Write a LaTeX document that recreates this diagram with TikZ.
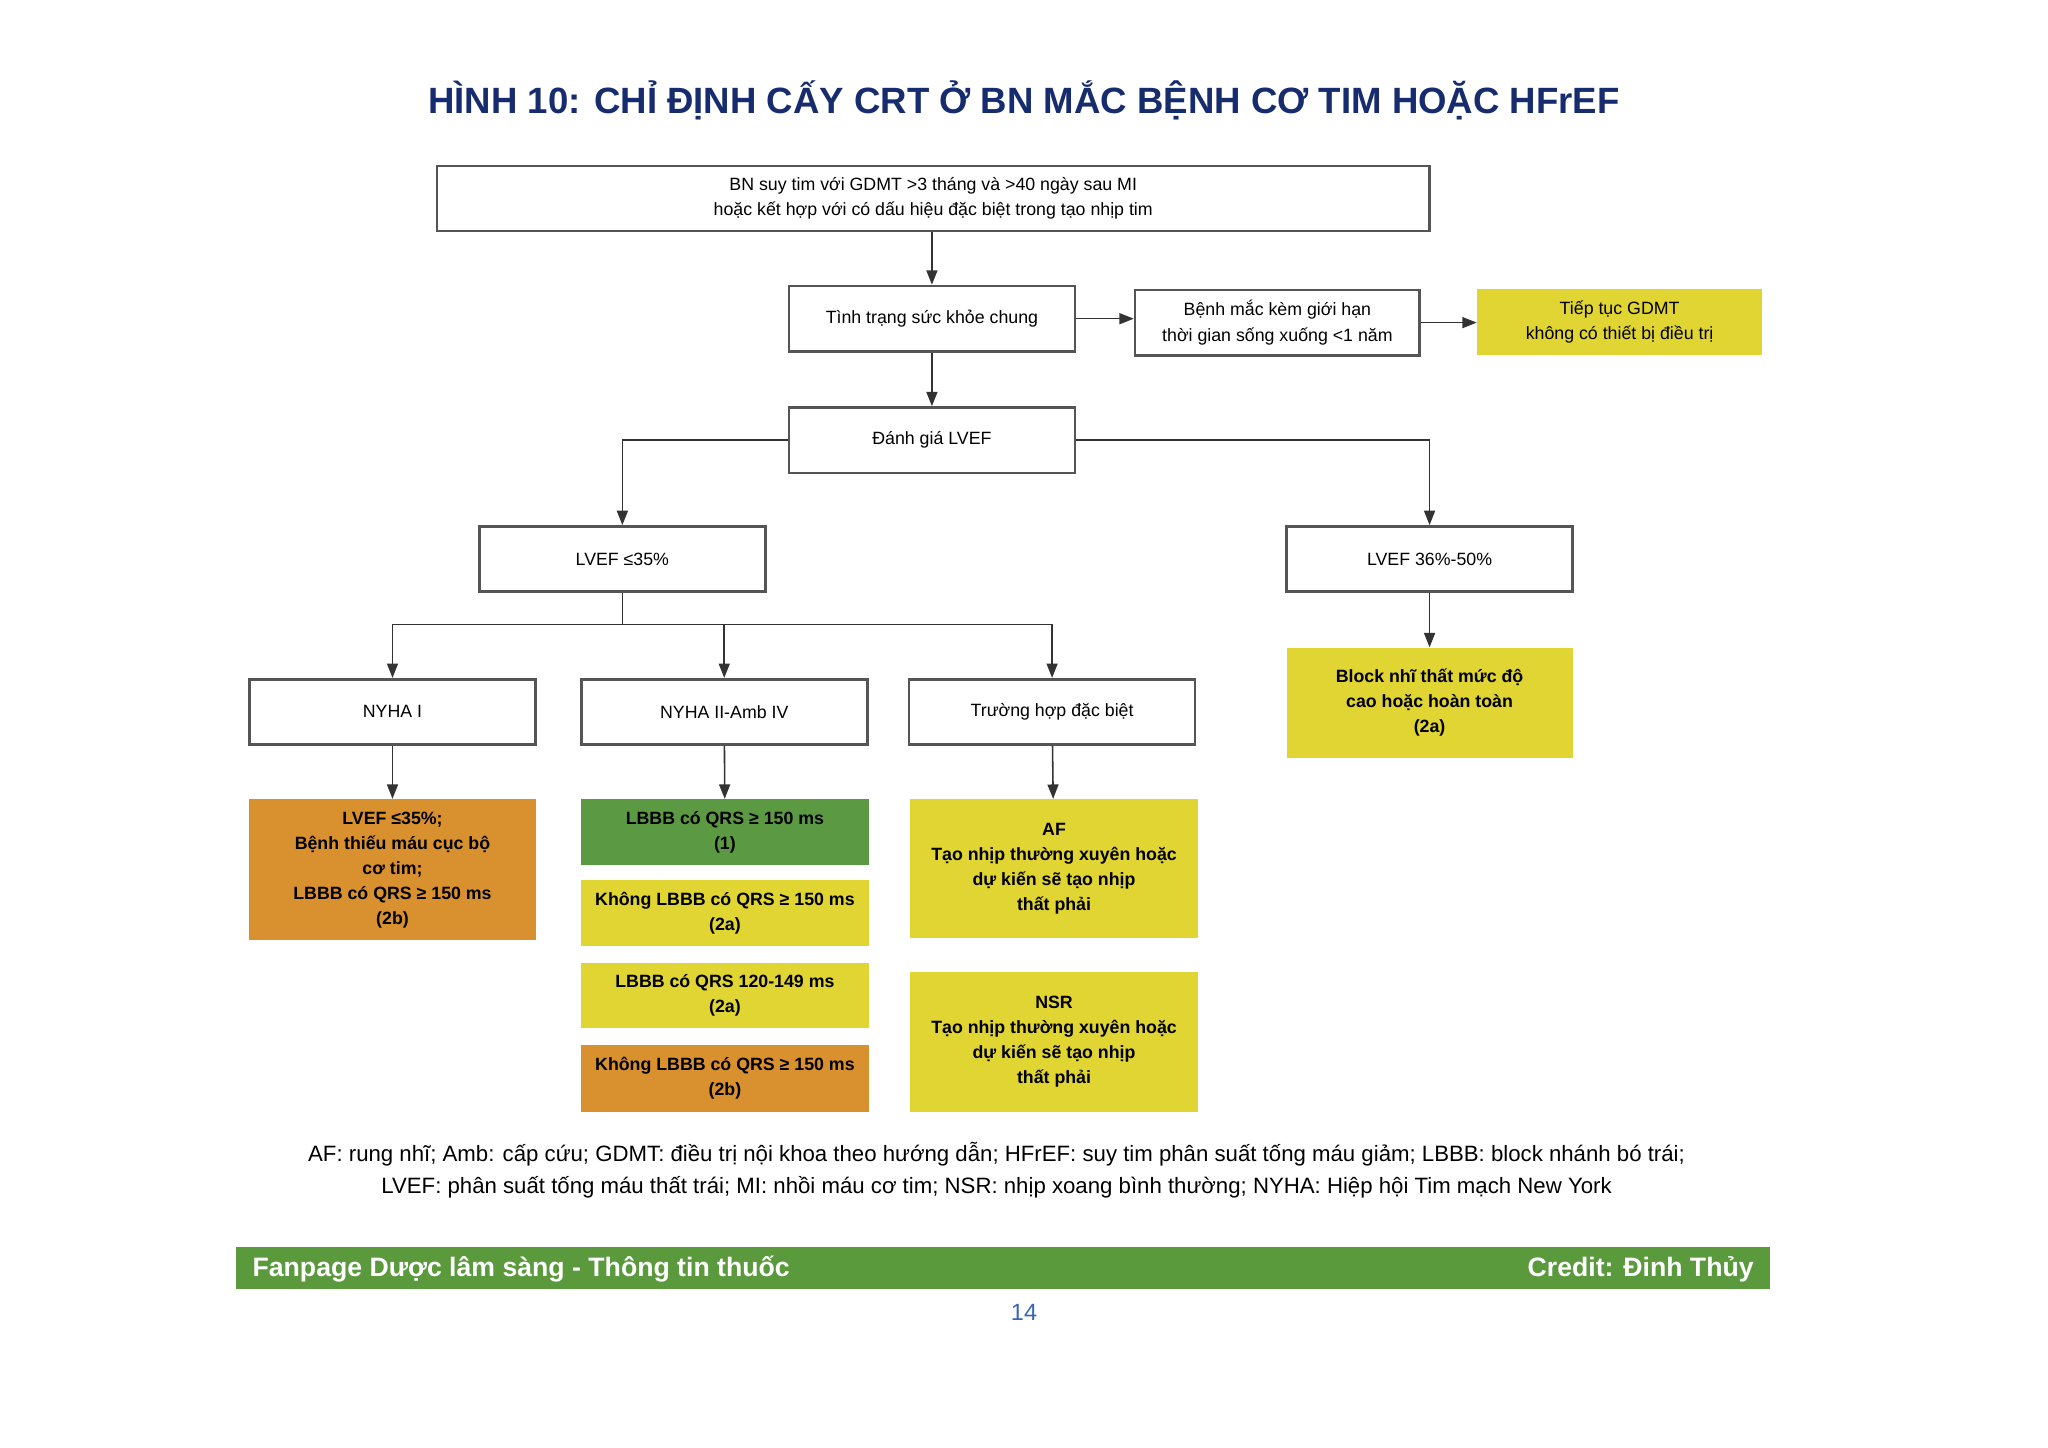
\documentclass[tikz,border=0pt]{standalone}
\usepackage{fontspec}
\setmainfont{Liberation Sans}
\usetikzlibrary{arrows.meta}
\definecolor{navy}{RGB}{22,44,110}
\definecolor{oran}{RGB}{217,144,46}
\definecolor{grn}{RGB}{91,154,66}
\definecolor{yel}{RGB}{224,213,50}
\definecolor{foot}{RGB}{90,154,60}
\definecolor{bord}{RGB}{85,85,85}
\definecolor{pgblue}{RGB}{60,100,180}
\begin{document}
\begin{tikzpicture}[x=0.5pt,y=-0.5pt,
  base/.style={inner sep=0pt,align=center,font=\fontsize{6.8}{9.6}\selectfont},
  wbox/.style={base,draw=bord,line width=1pt,fill=white},
  cbox/.style={base,font=\fontsize{6.8}{9.6}\selectfont\bfseries},
  arr/.style={-{Triangle[length=5.5pt,width=4.2pt]},line width=0.6pt,draw=black!80}]
\useasboundingbox (0,0) rectangle (1568,1108.6);
\fill[white] (0,0) rectangle (1568,1108.6);
\node[font=\fontsize{14}{16}\selectfont\bfseries,text=navy] (title) at (784,77) {HÌNH 10: CHỈ ĐỊNH CẤY CRT Ở BN MẮC BỆNH CƠ TIM HOẶC HFrEF};
\node[wbox,minimum width=380pt,minimum height=25pt] (top) at (714.5,152) {BN suy tim với GDMT >3 tháng và >40 ngày sau MI\\hoặc kết hợp với có dấu hiệu đặc biệt trong tạo nhịp tim};
\node[wbox,minimum width=109.5pt,minimum height=25pt] (tinh) at (713.5,244) {Tình trạng sức khỏe chung};
\node[wbox,minimum width=109pt,minimum height=25pt] (benh) at (978,247) {Bệnh mắc kèm giới hạn\\thời gian sống xuống <1 năm};
\node[base,fill=yel,minimum width=109pt,minimum height=25.5pt] (tiep) at (1240,246.5) {Tiếp tục GDMT\\không có thiết bị điều trị};
\node[wbox,minimum width=109.5pt,minimum height=25pt] (danh) at (713.5,337) {Đánh giá LVEF};
\node[wbox,minimum width=109.5pt,minimum height=25pt] (l35) at (476.5,428) {LVEF ≤35\%};
\node[wbox,minimum width=109.5pt,minimum height=25pt] (l36) at (1094.5,428) {LVEF 36\%-50\%};
\node[cbox,fill=yel,minimum width=109.5pt,minimum height=42pt] (block) at (1094.5,538) {Block nhĩ thất mức độ\\cao hoặc hoàn toàn\\(2a)};
\node[wbox,minimum width=109.5pt,minimum height=25pt] (n1) at (300.5,545) {NYHA I};
\node[wbox,minimum width=109.5pt,minimum height=25pt] (n2) at (554.5,545) {NYHA II-Amb IV};
\node[wbox,minimum width=109.5pt,minimum height=25pt] (n3) at (805.5,545) {Trường hợp đặc biệt};
\node[cbox,fill=oran,minimum width=109.5pt,minimum height=54pt] (o1) at (300.5,666) {LVEF ≤35\%;\\Bệnh thiếu máu cục bộ\\cơ tim;\\LBBB có QRS ≥ 150 ms\\(2b)};
\node[cbox,fill=grn,minimum width=110pt,minimum height=25pt] (g1) at (555,637) {LBBB có QRS ≥ 150 ms\\(1)};
\node[cbox,fill=yel,minimum width=110pt,minimum height=25pt] (y1) at (555,699) {Không LBBB có QRS ≥ 150 ms\\(2a)};
\node[cbox,fill=yel,minimum width=110pt,minimum height=25pt] (y2) at (555,762) {LBBB có QRS 120-149 ms\\(2a)};
\node[cbox,fill=oran,minimum width=110pt,minimum height=25.5pt] (o2) at (555,825.5) {Không LBBB có QRS ≥ 150 ms\\(2b)};
\node[cbox,fill=yel,minimum width=110pt,minimum height=53pt] (af) at (807,665) {AF\\Tạo nhịp thường xuyên hoặc\\dự kiến sẽ tạo nhịp\\thất phải};
\node[cbox,fill=yel,minimum width=110pt,minimum height=53.5pt] (nsr) at (807,797.5) {NSR\\Tạo nhịp thường xuyên hoặc\\dự kiến sẽ tạo nhịp\\thất phải};
\coordinate (jn) at (476.5,478);
\draw[arr] (top.south -| tinh) -- (tinh.north);
\draw[arr] (tinh.east) -- (tinh.east -| benh.west);
\draw[arr] (benh.east) -- (benh.east -| tiep.west);
\draw[arr] (tinh) -- (danh);
\draw[arr] (danh.west) -| (l35.north);
\draw[arr] (danh.east) -| (l36.north);
\draw[arr] (l36) -- (block);
\draw[line width=0.6pt,draw=black!80] (l35.south) -- (jn) (jn -| n1) -- (jn -| n3);
\draw[arr] (jn -| n1) -- (n1.north);
\draw[arr] (jn -| n2) -- (n2.north);
\draw[arr] (jn -| n3) -- (n3.north);
\draw[arr] (n1) -- (o1);
\draw[arr] (n2) -- (g1);
\draw[arr] (n3) -- (af);
\node[align=center,font=\fontsize{8.5}{12}\selectfont] (cap) at (763,896) {AF: rung nhĩ; Amb: cấp cứu; GDMT: điều trị nội khoa theo hướng dẫn; HFrEF: suy tim phân suất tống máu giảm; LBBB: block nhánh bó trái;\\LVEF: phân suất tống máu thất trái; MI: nhồi máu cơ tim; NSR: nhịp xoang bình thường; NYHA: Hiệp hội Tim mạch New York};
\fill[foot] (181,955) rectangle (1355,987);
\node[anchor=west,inner sep=0pt,text=white,font=\fontsize{10.2}{12}\selectfont\bfseries] (fp) at (193,972) {Fanpage Dược lâm sàng - Thông tin thuốc};
\node[anchor=east,inner sep=0pt,text=white,font=\fontsize{10.2}{12}\selectfont\bfseries] (cr) at (1343,972) {Credit: Đinh Thủy};
\node[text=pgblue,font=\fontsize{9}{11}\selectfont] (pg) at (784,1005) {14};
\end{tikzpicture}
\end{document}
